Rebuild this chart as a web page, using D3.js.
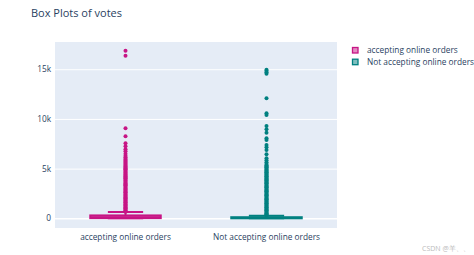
<!DOCTYPE html>
<html>
<head>
<meta charset="utf-8">
<script src="https://cdn.jsdelivr.net/npm/d3@7"></script>
<style>
  body { margin: 0; background: #fff; }
  text { font-family: "Open Sans", "DejaVu Sans", sans-serif; }
</style>
</head>
<body>
<div class="dataviz"></div>
<script>
const categories = ['accepting online orders', 'Not accepting online orders']
const colors = ['#c71585', '#008080']

// box stats: [min, q1, median, q3, upper fence]
const boxStats = [
  [0, 20, 100, 290, 640],
  [0, 0, 30, 110, 260]
]

const outliersAccepting = [
  660, 720, 790, 850, 930, 1000, 1080, 1150, 1230, 1300, 1380, 1450, 1540, 1620,
  1700, 1780, 1860, 1950, 2030, 2110, 2200, 2290, 2370, 2450, 2540, 2630, 2710,
  2800, 2890, 2980, 3060, 3150, 3240, 3330, 3420, 3500, 3590, 3680, 3770, 3860,
  3950, 4040, 4130, 4220, 4310, 4400, 4490, 4580, 4670, 4760, 4850, 4940, 5030,
  5120, 5210, 5300, 5400, 5500, 5600, 5700, 5800, 5900, 6000, 6150, 6300,
  6500, 6750, 6950, 7250, 7550, 8250, 9050, 16350, 16850
]

const outliersNot = [
  280, 350, 420, 500, 570, 650, 730, 800, 880, 960, 1040, 1120, 1200, 1280, 1360,
  1440, 1520, 1600, 1680, 1760, 1840, 1920, 2000, 2080, 2160, 2240, 2320, 2400,
  2480, 2560, 2640, 2720, 2800, 2880, 2960, 3040, 3120, 3200, 3280, 3360, 3440,
  3520, 3600, 3680, 3760, 3840, 3920, 4000, 4080, 4160, 4240, 4320, 4400, 4480,
  4560, 4640, 4720, 4800, 4880, 4960, 5050, 5150, 5250, 5350, 5460, 5650, 5850,
  6040, 6450, 6870, 7140, 7370, 7880, 8050, 8610, 8950, 9290, 10400, 10560,
  12070, 14550, 14700, 14850, 14950
]

const yTicks = [0, 5000, 10000, 15000]
const yTickLabels = ['0', '5k', '10k', '15k']

const width = 474
const height = 255
const plot = { left: 55, right: 337, top: 42, bottom: 228 }

const svg = d3.select('.dataviz').append('svg')
  .attr('width', width).attr('height', height)

svg.append('text')
  .attr('x', 31).attr('y', 17)
  .attr('font-size', 11)
  .attr('fill', '#2a3f5f')
  .text('Box Plots of votes')

// scales
const xScale = d3.scaleBand().domain(categories).range([plot.left, plot.right])
const yScale = d3.scaleLinear().domain([-975, 17740]).range([plot.bottom, plot.top])

svg.append('rect')
  .attr('x', plot.left).attr('y', plot.top)
  .attr('width', plot.right - plot.left).attr('height', plot.bottom - plot.top)
  .attr('fill', '#e5ecf6')

// y grid + labels
const yAxis = svg.append('g')
  .attr('transform', `translate(${plot.left}, 0)`)
  .call(d3.axisLeft(yScale)
    .tickValues(yTicks)
    .tickFormat((d, i) => yTickLabels[i])
    .tickSize(-(plot.right - plot.left))
    .tickPadding(4))
yAxis.select('.domain').remove()
yAxis.selectAll('line').attr('stroke', '#fff').attr('stroke-width', d => d === 0 ? 1.5 : 1)
yAxis.selectAll('text').attr('font-size', 8.3).attr('fill', '#2a3f5f')
  .attr('font-family', '"Open Sans", sans-serif')

// x labels
const xAxis = svg.append('g')
  .attr('transform', `translate(0, ${plot.bottom})`)
  .call(d3.axisBottom(xScale).tickSize(0).tickPadding(6))
xAxis.select('.domain').remove()
xAxis.selectAll('text').attr('font-size', 8.3).attr('fill', '#2a3f5f')
  .attr('font-family', '"Open Sans", sans-serif')

const outliers = [outliersAccepting, outliersNot]

categories.forEach((cat, i) => {
  const cx = xScale(cat) + xScale.bandwidth() / 2
  const bw = xScale.bandwidth() / 2
  const [mn, q1, med, q3, hi] = boxStats[i]
  const g = svg.append('g')
  const c = colors[i]

  // whisker
  g.append('line')
    .attr('x1', cx).attr('x2', cx)
    .attr('y1', yScale(q3)).attr('y2', yScale(hi))
    .attr('stroke', c).attr('stroke-width', 2)
  g.append('line')
    .attr('x1', cx - bw / 4).attr('x2', cx + bw / 4)
    .attr('y1', yScale(hi)).attr('y2', yScale(hi))
    .attr('stroke', c).attr('stroke-width', 2)
  g.append('line')
    .attr('x1', cx - bw / 4).attr('x2', cx + bw / 4)
    .attr('y1', yScale(mn)).attr('y2', yScale(mn))
    .attr('stroke', c).attr('stroke-width', 2)

  // box
  g.append('rect')
    .attr('x', cx - bw / 2).attr('width', bw)
    .attr('y', yScale(q3)).attr('height', yScale(q1) - yScale(q3))
    .attr('fill', c).attr('fill-opacity', 0.5)
    .attr('stroke', c).attr('stroke-width', 2)
  g.append('line')
    .attr('x1', cx - bw / 2).attr('x2', cx + bw / 2)
    .attr('y1', yScale(med)).attr('y2', yScale(med))
    .attr('stroke', c).attr('stroke-width', 2)

  // outliers
  g.selectAll('circle')
    .data(outliers[i])
    .enter()
    .append('circle')
    .attr('cx', cx)
    .attr('cy', d => yScale(d))
    .attr('r', 2)
    .attr('fill', c)
})

// legend
const legend = svg.append('g').attr('transform', 'translate(352, 47)')
categories.forEach((cat, i) => {
  const row = legend.append('g').attr('transform', `translate(0, ${i * 11.7})`)
  row.append('rect')
    .attr('x', 0.5).attr('y', 0.5).attr('width', 5.5).attr('height', 5.5)
    .attr('fill', colors[i]).attr('fill-opacity', 0.5)
    .attr('stroke', colors[i]).attr('stroke-width', 1.3)
  row.append('text')
    .attr('x', 15).attr('y', 3.3)
    .attr('dy', '0.35em')
    .attr('font-size', 8.3)
    .attr('fill', '#2a3f5f')
    .text(cat)
})

// watermark
svg.append('text')
  .attr('x', 422).attr('y', 251)
  .attr('font-size', 7)
  .attr('fill', '#bbb')
  .attr('font-family', '"Noto Sans CJK SC", sans-serif')
  .text('CSDN @羊、、')
</script>
</body>
</html>
